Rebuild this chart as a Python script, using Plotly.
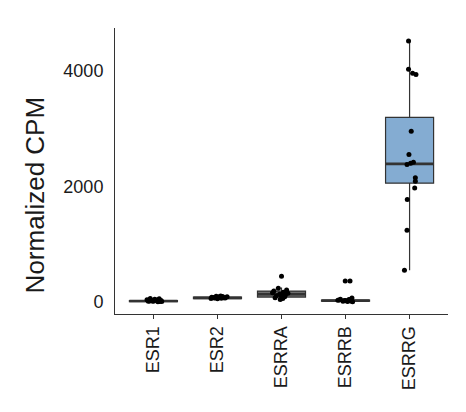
# boxplot of normalized CPM per estrogen-related receptor gene, points overlaid

import plotly.graph_objects as go

genes = ["ESR1", "ESR2", "ESRRA", "ESRRB", "ESRRG"]

# box stats
q1 = [5, 60, 85, 15, 2057]
median = [17, 72, 135, 25, 2391]
q3 = [25, 85, 190, 35, 3195]
lower = [0, 45, 30, 0, 552]
upper = [60, 110, 250, 60, 4517]

# individual samples (value, horizontal jitter offset)
esr1_vals = [12, 20, 35, 8, 50, 62, 25, 15, 40, 5, 30, 18, 55, 10, 28]
esr1_off = [-0.08, -0.02, 0.05, 0.1, 0.02, -0.05, 0.12, 0.0, -0.1, 0.07, 0.03, -0.06, 0.09, 0.13, -0.03]
esr2_vals = [60, 72, 85, 95, 105, 68, 78, 90, 55, 100, 75, 82, 66, 88, 70]
esr2_off = [-0.1, -0.04, 0.02, 0.08, 0.05, 0.12, -0.07, 0.15, 0.0, -0.02, 0.1, -0.09, 0.06, 0.03, -0.05]
esrra_vals = [448, 240, 210, 190, 170, 150, 135, 120, 110, 100, 90, 75, 60, 45, 160]
esrra_off = [0.0, -0.05, 0.08, -0.12, 0.03, 0.1, -0.03, 0.06, -0.08, 0.0, 0.05, -0.1, 0.02, -0.02, -0.14]
esrrb_vals = [362, 362, 70, 50, 40, 30, 25, 20, 15, 10, 5, 35, 45, 28, 22]
esrrb_off = [-0.005, 0.07, 0.1, -0.08, 0.05, -0.12, 0.0, 0.08, -0.04, 0.03, 0.11, -0.1, 0.06, -0.02, 0.04]
esrrg_vals = [4517, 4029, 3960, 3936, 2953, 2552, 2379, 2402, 2419, 2150, 2091, 1971, 1776, 1241, 552]
esrrg_off = [-0.016, -0.016, 0.047, 0.1, 0.026, -0.01, -0.04, 0.016, 0.06, 0.09, 0.09, 0.08, -0.036, -0.04, -0.08]

points = [
    (esr1_vals, esr1_off),
    (esr2_vals, esr2_off),
    (esrra_vals, esrra_off),
    (esrrb_vals, esrrb_off),
    (esrrg_vals, esrrg_off),
]

fills = ["#6f6f6f", "#6f6f6f", "#6f6f6f", "#6f6f6f", "#84acd2"]
box_width = 0.75
edge = "#333333"

fig = go.Figure()

for i, gene in enumerate(genes):
    fig.add_trace(
        go.Box(
            x=[i],
            q1=[q1[i]],
            median=[median[i]],
            q3=[q3[i]],
            lowerfence=[lower[i]],
            upperfence=[upper[i]],
            width=box_width,
            whiskerwidth=0,
            fillcolor=fills[i],
            line=dict(color=edge, width=1.2),
            boxpoints=False,
            hoverinfo="skip",
            showlegend=False,
        )
    )
    # thicker median bar like ggplot
    fig.add_trace(
        go.Scatter(
            x=[i - box_width / 2, i + box_width / 2],
            y=[median[i], median[i]],
            mode="lines",
            line=dict(color=edge, width=2.6),
            hoverinfo="skip",
            showlegend=False,
        )
    )

for i, (vals, offs) in enumerate(points):
    fig.add_trace(
        go.Scatter(
            x=[i + o for o in offs],
            y=vals,
            mode="markers",
            marker=dict(color="black", size=5),
            showlegend=False,
        )
    )

font = dict(family="Liberation Sans, Arial, sans-serif", size=18, color="#1a1a1a")

# page body adds ~8px, so the figure is a bit smaller than the window
fig.update_layout(
    width=458,
    height=404,
    margin=dict(l=107, r=18, t=20, b=98),
    plot_bgcolor="white",
    paper_bgcolor="white",
    font=font,
    xaxis=dict(
        range=[-0.6, 4.6],
        tickvals=list(range(len(genes))),
        ticktext=genes,
        tickangle=-90,
        ticks="outside",
        ticklen=4,
        tickcolor=edge,
        showline=True,
        linecolor=edge,
        linewidth=1,
        showgrid=False,
        zeroline=False,
    ),
    yaxis=dict(
        range=[-207, 4741],
        tickvals=[0, 2000, 4000],
        ticks="outside",
        ticklen=7,
        tickcolor="rgba(0,0,0,0)",
        showline=True,
        linecolor=edge,
        linewidth=1,
        showgrid=False,
        zeroline=False,
    ),
    # tick marks of the original sit apart from its labels
    yaxis2=dict(
        overlaying="y",
        anchor="x",
        side="left",
        range=[-207, 4741],
        tickvals=[0, 1690, 3414],
        ticks="outside",
        ticklen=4,
        tickcolor=edge,
        showticklabels=False,
        showline=False,
        showgrid=False,
        zeroline=False,
    ),
    annotations=[
        dict(
            text="Normalized CPM",
            textangle=-90,
            xref="paper",
            yref="paper",
            x=-0.24,
            y=0.415,
            xanchor="center",
            yanchor="middle",
            showarrow=False,
            font=dict(family="Liberation Sans, Arial, sans-serif", size=26, color="#1a1a1a"),
        )
    ],
)

fig.write_html("out.html")
